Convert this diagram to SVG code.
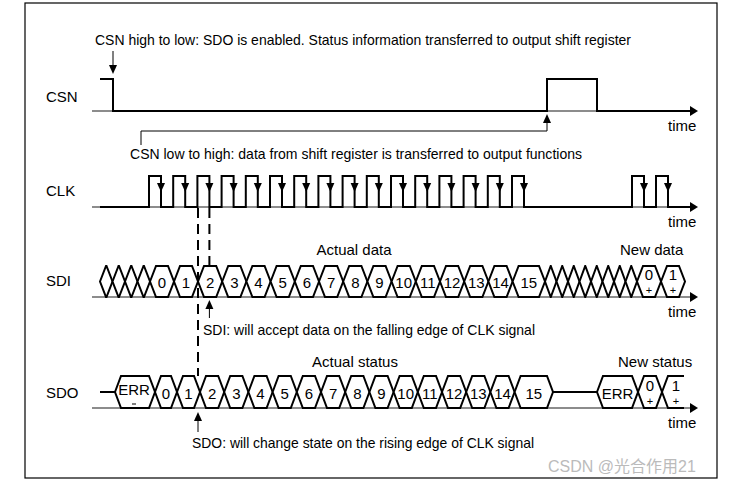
<svg xmlns="http://www.w3.org/2000/svg" width="737" height="486" viewBox="0 0 737 486">
<style>
text{font-family:"Liberation Sans",Arial,sans-serif;font-size:15px;fill:#000}
.d{text-anchor:middle}
.s{font-size:11px;text-anchor:middle}
.sig{fill:none;stroke:#000;stroke-width:2}
.base{fill:none;stroke:#666;stroke-width:1.5}
.hex{fill:#fff;stroke:#000;stroke-width:2;stroke-linejoin:miter}
.thin{fill:none;stroke:#000;stroke-width:1}
.dash{fill:none;stroke:#000;stroke-width:2;stroke-dasharray:10,6}
</style>
<defs>
<polygon id="dn" points="-4,-5 4,-5 0,4" fill="#000"/>
<polygon id="up" points="-4,5 4,5 0,-4" fill="#000"/>
<polygon id="rt" points="-8,-5 0,0 -8,5" fill="#000"/>
</defs>
<rect x="25" y="3" width="692" height="475" fill="none" stroke="#000" stroke-width="1.2"/>

<g id="csn">
<text x="46" y="102">CSN</text>
<line class="base" x1="92" y1="111" x2="692" y2="111"/>
<path class="sig" d="M100,79 H113 V111 H547 V79 H597 V111 H690"/>
<use href="#rt" x="698" y="111"/>
<text x="668" y="131">time</text>
<text x="95" y="45" textLength="536" lengthAdjust="spacingAndGlyphs">CSN high to low: SDO is enabled. Status information transferred to output shift register</text>
<line class="thin" x1="113" y1="51" x2="113" y2="70"/>
<use href="#dn" x="113" y="70"/>
<path class="thin" d="M141,145 V131 H547 V118" stroke="#444"/>
<use href="#up" x="547" y="118"/>
<text x="130" y="159" textLength="452" lengthAdjust="spacingAndGlyphs">CSN low to high: data from shift register is transferred to output functions</text>
</g>

<g id="clk">
<text x="46" y="196">CLK</text>
<line class="base" x1="92" y1="207" x2="692" y2="207"/>
<path class="sig" d="M100,207 H149 V176 H161 V207 H173.2 V176 H185.2 V207 H197.4 V176 H209.4 V207 H221.6 V176 H233.6 V207 H245.8 V176 H257.8 V207 H270 V176 H282 V207 H294.2 V176 H306.2 V207 H318.4 V176 H330.4 V207 H342.6 V176 H354.6 V207 H366.8 V176 H378.8 V207 H391 V176 H403 V207 H415.2 V176 H427.2 V207 H439.4 V176 H451.4 V207 H463.6 V176 H475.6 V207 H487.8 V176 H499.8 V207 H512 V176 H524 V207 H632 V176 H644 V207 H656 V176 H668 V207 H690"/>
<use href="#dn" x="161" y="188"/><use href="#dn" x="185.2" y="188"/><use href="#dn" x="209.4" y="188"/><use href="#dn" x="233.6" y="188"/>
<use href="#dn" x="257.8" y="188"/><use href="#dn" x="282" y="188"/><use href="#dn" x="306.2" y="188"/><use href="#dn" x="330.4" y="188"/>
<use href="#dn" x="354.6" y="188"/><use href="#dn" x="378.8" y="188"/><use href="#dn" x="403" y="188"/><use href="#dn" x="427.2" y="188"/>
<use href="#dn" x="451.4" y="188"/><use href="#dn" x="475.6" y="188"/><use href="#dn" x="499.8" y="188"/><use href="#dn" x="524" y="188"/>
<use href="#dn" x="644" y="188"/><use href="#dn" x="668" y="188"/>
<use href="#rt" x="698" y="207"/>
<text x="668" y="227">time</text>
</g>

<g id="sdi">
<text x="46" y="286">SDI</text>
<line class="base" x1="92" y1="297" x2="692" y2="297"/>
<use href="#rt" x="698" y="297"/>
<g class="hex">
<polygon points="100,281.5 106,266 106.5,266 112.5,281.5 106.5,297 106,297"/>
<polygon points="112.5,281.5 118.5,266 119,266 125,281.5 119,297 118.5,297"/>
<polygon points="125,281.5 131,266 131.5,266 137.5,281.5 131.5,297 131,297"/>
<polygon points="137.5,281.5 143.5,266 144,266 150,281.5 144,297 143.5,297"/>
<polygon points="150,281.5 156,266 168,266 174,281.5 168,297 156,297"/>
<polygon points="174,281.5 180,266 192,266 198,281.5 192,297 180,297"/>
<polygon points="198,281.5 204,266 216.2,266 222.2,281.5 216.2,297 204,297"/>
<polygon points="222.2,281.5 228.2,266 240.4,266 246.4,281.5 240.4,297 228.2,297"/>
<polygon points="246.4,281.5 252.4,266 264.6,266 270.6,281.5 264.6,297 252.4,297"/>
<polygon points="270.6,281.5 276.6,266 288.8,266 294.8,281.5 288.8,297 276.6,297"/>
<polygon points="294.8,281.5 300.8,266 313,266 319,281.5 313,297 300.8,297"/>
<polygon points="319,281.5 325,266 337.2,266 343.2,281.5 337.2,297 325,297"/>
<polygon points="343.2,281.5 349.2,266 361.4,266 367.4,281.5 361.4,297 349.2,297"/>
<polygon points="367.4,281.5 373.4,266 385.6,266 391.6,281.5 385.6,297 373.4,297"/>
<polygon points="391.6,281.5 397.6,266 409.8,266 415.8,281.5 409.8,297 397.6,297"/>
<polygon points="415.8,281.5 421.8,266 434,266 440,281.5 434,297 421.8,297"/>
<polygon points="440,281.5 446,266 458.2,266 464.2,281.5 458.2,297 446,297"/>
<polygon points="464.2,281.5 470.2,266 482.4,266 488.4,281.5 482.4,297 470.2,297"/>
<polygon points="488.4,281.5 494.4,266 506.6,266 512.6,281.5 506.6,297 494.4,297"/>
<polygon points="512.6,281.5 518.6,266 539,266 545,281.5 539,297 518.6,297"/>
<polygon points="545,281.5 550.7,266 550.8,266 556.5,281.5 550.8,297 550.7,297"/>
<polygon points="556.5,281.5 562.2,266 562.3,266 568,281.5 562.3,297 562.2,297"/>
<polygon points="568,281.5 573.7,266 573.8,266 579.5,281.5 573.8,297 573.7,297"/>
<polygon points="579.5,281.5 585.2,266 585.3,266 591,281.5 585.3,297 585.2,297"/>
<polygon points="591,281.5 596.7,266 596.8,266 602.5,281.5 596.8,297 596.7,297"/>
<polygon points="602.5,281.5 608.2,266 608.3,266 614,281.5 608.3,297 608.2,297"/>
<polygon points="614,281.5 619.7,266 619.8,266 625.5,281.5 619.8,297 619.7,297"/>
<polygon points="625.5,281.5 631.2,266 631.3,266 637,281.5 631.3,297 631.2,297"/>
<polygon points="637,281.5 643,266 655,266 661,281.5 655,297 643,297"/>
<polygon points="661,281.5 667,266 679,266 685,281.5 679,297 667,297"/>
</g>
<g class="d">
<text class="d" x="162" y="288">0</text><text class="d" x="186" y="288">1</text><text class="d" x="210.1" y="288">2</text>
<text class="d" x="234.3" y="288">3</text><text class="d" x="258.5" y="288">4</text><text class="d" x="282.7" y="288">5</text>
<text class="d" x="306.9" y="288">6</text><text class="d" x="331.1" y="288">7</text><text class="d" x="355.3" y="288">8</text>
<text class="d" x="379.5" y="288">9</text><text class="d" x="403.7" y="288">10</text><text class="d" x="427.9" y="288">11</text>
<text class="d" x="452.1" y="288">12</text><text class="d" x="476.3" y="288">13</text><text class="d" x="500.5" y="288">14</text>
<text class="d" x="528.8" y="288">15</text>
<text class="d" x="649" y="280">0</text><text class="s" x="649" y="294">+</text>
<text class="d" x="673" y="280">1</text><text class="s" x="673" y="294">+</text>
</g>
<text class="d" x="354" y="255">Actual data</text>
<text x="620" y="255">New data</text>
<text x="668" y="317">time</text>
<text x="203" y="335" textLength="332" lengthAdjust="spacingAndGlyphs">SDI: will accept data on the falling edge of CLK signal</text>
</g>

<g id="sdo">
<text x="46" y="398">SDO</text>
<line class="base" x1="92" y1="408" x2="692" y2="408"/>
<use href="#rt" x="698" y="408"/>
<line class="sig" x1="100" y1="392" x2="115" y2="392"/>
<line class="sig" x1="553" y1="392" x2="597" y2="392"/>
<g class="hex">
<polygon points="115,392 121,376 149,376 155,392 149,408 121,408"/>
<polygon points="155,392 161,376 171,376 177,392 171,408 161,408"/>
<polygon points="177,392 183,376 194,376 200,392 194,408 183,408"/>
<polygon points="200,392 206,376 218.2,376 224.2,392 218.2,408 206,408"/>
<polygon points="224.2,392 230.2,376 242.4,376 248.4,392 242.4,408 230.2,408"/>
<polygon points="248.4,392 254.4,376 266.6,376 272.6,392 266.6,408 254.4,408"/>
<polygon points="272.6,392 278.6,376 290.8,376 296.8,392 290.8,408 278.6,408"/>
<polygon points="296.8,392 302.8,376 315,376 321,392 315,408 302.8,408"/>
<polygon points="321,392 327,376 339.2,376 345.2,392 339.2,408 327,408"/>
<polygon points="345.2,392 351.2,376 363.4,376 369.4,392 363.4,408 351.2,408"/>
<polygon points="369.4,392 375.4,376 387.6,376 393.6,392 387.6,408 375.4,408"/>
<polygon points="393.6,392 399.6,376 411.8,376 417.8,392 411.8,408 399.6,408"/>
<polygon points="417.8,392 423.8,376 436,376 442,392 436,408 423.8,408"/>
<polygon points="442,392 448,376 460.2,376 466.2,392 460.2,408 448,408"/>
<polygon points="466.2,392 472.2,376 484.4,376 490.4,392 484.4,408 472.2,408"/>
<polygon points="490.4,392 496.4,376 508.6,376 514.6,392 508.6,408 496.4,408"/>
<polygon points="514.6,392 520.6,376 547,376 553,392 547,408 520.6,408"/>
<polygon points="597,392 603,376 632,376 638,392 632,408 603,408"/>
<polygon points="638,392 644,376 656,376 662,392 656,408 644,408"/>
</g>
<path class="sig" d="M684,376 H668 L662,392 L668,408 H684"/>
<text class="d" x="134" y="395">ERR</text><line x1="132" y1="404" x2="136" y2="404" stroke="#000" stroke-width="1"/>
<text class="d" x="166" y="399">0</text><text class="d" x="188.5" y="399">1</text><text class="d" x="212.1" y="399">2</text>
<text class="d" x="236.3" y="399">3</text><text class="d" x="260.5" y="399">4</text><text class="d" x="284.7" y="399">5</text>
<text class="d" x="308.9" y="399">6</text><text class="d" x="333.1" y="399">7</text><text class="d" x="357.3" y="399">8</text>
<text class="d" x="381.5" y="399">9</text><text class="d" x="405.7" y="399">10</text><text class="d" x="429.9" y="399">11</text>
<text class="d" x="454.1" y="399">12</text><text class="d" x="478.3" y="399">13</text><text class="d" x="502.5" y="399">14</text>
<text class="d" x="533.8" y="399">15</text>
<text class="d" x="617.5" y="399">ERR</text>
<text class="d" x="650" y="391">0</text><text class="s" x="650" y="405">+</text>
<text class="d" x="676" y="391">1</text><text class="s" x="676" y="405">+</text>
<text class="d" x="355" y="367">Actual status</text>
<text x="618" y="367">New status</text>
<text x="668" y="428">time</text>
<text x="192" y="448" textLength="342" lengthAdjust="spacingAndGlyphs">SDO: will change state on the rising edge of CLK signal</text>
</g>

<g id="connectors">
<line class="dash" x1="198" y1="208" x2="198" y2="376"/>
<line class="dash" x1="209.4" y1="208" x2="209.4" y2="266"/>
<line class="thin" x1="209.4" y1="318" x2="209.4" y2="304"/>
<use href="#up" x="209.4" y="304"/>
<line class="thin" x1="198" y1="432" x2="198" y2="416"/>
<use href="#up" x="198" y="416"/>
</g>
<text x="548" y="472" fill="#bbb" style="font-size:16px;fill:#bbb;font-family:'Liberation Sans','Noto Sans CJK SC',sans-serif">CSDN @光合作用21</text>
</svg>
